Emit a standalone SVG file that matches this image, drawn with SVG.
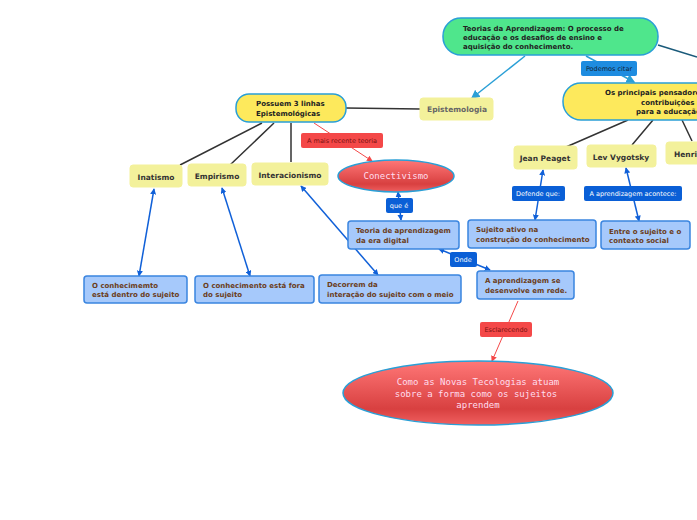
<svg xmlns="http://www.w3.org/2000/svg" width="697" height="520" viewBox="0 0 697 520">
<style>
text{font-family:"DejaVu Sans","Liberation Sans",sans-serif;font-size:7px;font-weight:bold;fill:#222}
.y{fill:#f3f19b;stroke:#f3f19b}
.yt{fill:#333;font-size:7.5px}
.b{fill:#a6c9fb;stroke:#3a85e0;stroke-width:1.5}
.bt{fill:#6b3d1a}
.lab{fill:#0a5fd6}
.labt{fill:#fff;font-weight:normal;font-size:6.5px}
.red{fill:#f44848}
.redt{fill:#7a1010;font-weight:normal;font-size:6.5px}
.mono{font-family:"DejaVu Sans Mono","Liberation Mono",monospace;font-weight:normal;fill:#fde;font-size:9px}
.k{stroke:#333;stroke-width:1.5;fill:none}
.bl{stroke:#1060d8;stroke-width:1.5;fill:none;marker-end:url(#ab);marker-start:url(#as)}
.rl{stroke:#f44848;stroke-width:1;fill:none}
</style>
<defs>
<marker id="ab" markerWidth="4" markerHeight="4" refX="3.5" refY="2" orient="auto"><path d="M0,0L4,2L0,4z" fill="#1060d8"/></marker>
<marker id="as" markerWidth="4" markerHeight="4" refX="0.5" refY="2" orient="auto"><path d="M4,0L0,2L4,4z" fill="#1060d8"/></marker>
<marker id="ac" markerWidth="6" markerHeight="6" refX="5" refY="3" orient="auto"><path d="M0,0L6,3L0,6z" fill="#2a9fd6"/></marker>
<marker id="ar" markerWidth="6" markerHeight="6" refX="5" refY="3" orient="auto"><path d="M0,0L6,3L0,6z" fill="#f44848"/></marker>
<linearGradient id="rg" x1="0" y1="0" x2="0" y2="1"><stop offset="0" stop-color="#f77"/><stop offset="0.75" stop-color="#d84040"/><stop offset="1" stop-color="#f06060"/></linearGradient>
</defs>
<rect width="697" height="520" fill="#fff"/>
<g id="connectors">
<path d="M658,45L697,57" stroke="#1a5a7a" stroke-width="1.5"/>
<path d="M525,56L472,98" stroke="#2a9fd6" stroke-width="1.5" marker-end="url(#ac)"/>
<path d="M586,56L634,82" stroke="#2a9fd6" stroke-width="1.5" marker-end="url(#ac)"/>
<path class="k" d="M346,108L420,109"/>
<path class="k" d="M262,123L180,165M274,123L230,165M291,123L291,162"/>
<path class="rl" d="M314,123L372,161" marker-end="url(#ar)"/>
<path class="bl" d="M398,192L401,220"/>
<path class="bl" d="M439,249L490,270"/>
<path class="rl" d="M518,301L492,361" marker-end="url(#ar)"/>
<path class="bl" d="M543,170L535,220"/>
<path class="bl" d="M626,168L639,221"/>
<path class="k" d="M628,120L566,147M653,120L632,145M682,120L692,141"/>
<path class="bl" d="M154,189L139,276"/>
<path class="bl" d="M222,188L250,276"/>
<path class="bl" d="M301,186L378,275"/>
</g>
<g id="lab1"><rect x="581" y="61" width="56" height="15" rx="2" fill="#1e8ce0"/><text x="609" y="71" text-anchor="middle" style="font-weight:normal;font-size:6.5px;fill:#123">Podemos citar</text></g>
<g id="lab2"><rect x="301" y="133" width="82" height="15" rx="2" class="red"/><text x="342" y="143" text-anchor="middle" class="redt">A mais recente teoria</text></g>
<g id="lab3"><rect x="386" y="198" width="27" height="15" rx="2" class="lab"/><text x="399" y="208" text-anchor="middle" class="labt">que é</text></g>
<g id="lab4"><rect x="450" y="252" width="27" height="15" rx="2" class="lab"/><text x="463" y="262" text-anchor="middle" class="labt">Onde</text></g>
<g id="lab5"><rect x="480" y="322" width="52" height="15" rx="2" class="red"/><text x="506" y="332" text-anchor="middle" class="redt">Esclarecendo</text></g>
<g id="lab6"><rect x="512" y="186" width="53" height="15" rx="2" class="lab"/><text x="538" y="196" text-anchor="middle" class="labt">Defende que:</text></g>
<g id="lab7"><rect x="584" y="186" width="98" height="15" rx="2" class="lab"/><text x="633" y="196" text-anchor="middle" class="labt">A aprendizagem acontece:</text></g>
<g id="top"><rect x="443" y="18" width="215" height="37" rx="18" fill="#4fe68c" stroke="#2a9fd6" stroke-width="1.5"/><text x="463" y="31">Teorias da Aprendizagem: O processo de</text><text x="463" y="40">educação e os desafios de ensino e</text><text x="463" y="49">aquisição do conhecimento.</text></g>
<g id="pensadores"><rect x="563" y="83" width="150" height="37" rx="18" fill="#fde95c" stroke="#2a9fd6" stroke-width="1.5"/><text x="605" y="95">Os principais pensadores</text><text x="641" y="105">contribuições</text><text x="636" y="114">para a educação</text></g>
<g id="epistemologia"><rect x="420" y="98" width="73" height="22" rx="3" class="y"/><text x="457" y="112" text-anchor="middle" class="yt" style="fill:#666">Epistemologia</text></g>
<g id="possuem"><rect x="236" y="94" width="110" height="28" rx="13" fill="#fde95c" stroke="#2a9fd6" stroke-width="1.5"/><text x="256" y="106">Possuem 3 linhas</text><text x="256" y="116">Epistemológicas</text></g>
<g id="inatismo"><rect x="130" y="165" width="52" height="22" rx="3" class="y"/><text x="156" y="180" text-anchor="middle" class="yt">Inatismo</text></g>
<g id="empirismo"><rect x="188" y="164" width="58" height="22" rx="3" class="y"/><text x="217" y="179" text-anchor="middle" class="yt">Empirismo</text></g>
<g id="interacionismo"><rect x="252" y="163" width="76" height="22" rx="3" class="y"/><text x="290" y="178" text-anchor="middle" class="yt">Interacionismo</text></g>
<g id="jean"><rect x="514" y="146" width="63" height="23" rx="3" class="y"/><text x="545" y="161" text-anchor="middle" class="yt">Jean Peaget</text></g>
<g id="lev"><rect x="587" y="145" width="69" height="22" rx="3" class="y"/><text x="621" y="160" text-anchor="middle" class="yt">Lev Vygotsky</text></g>
<g id="henri"><rect x="666" y="142" width="40" height="22" rx="3" class="y"/><text x="674" y="157" class="yt">Henri</text></g>
<g id="conectivismo"><ellipse cx="396" cy="176" rx="58" ry="16" fill="url(#rg)" stroke="#2a9fd6" stroke-width="1.5"/><text x="396" y="179" text-anchor="middle" class="mono">Conectivismo</text></g>
<g id="teoria"><rect x="348" y="221" width="111" height="28" rx="3" class="b"/><text x="356" y="233" class="bt">Teoria de aprendizagem</text><text x="356" y="243" class="bt">da era digital</text></g>
<g id="rede"><rect x="477" y="271" width="97" height="28" rx="3" class="b"/><text x="485" y="283" class="bt">A aprendizagem se</text><text x="485" y="293" class="bt">desenvolve em rede.</text></g>
<g id="sujeito"><rect x="468" y="220" width="128" height="28" rx="3" class="b"/><text x="476" y="232" class="bt">Sujeito ativo na</text><text x="476" y="242" class="bt">construção do conhecimento</text></g>
<g id="entre"><rect x="601" y="221" width="89" height="28" rx="3" class="b"/><text x="609" y="234" class="bt">Entre o sujeito e o</text><text x="609" y="243" class="bt">contexto social</text></g>
<g id="conh1"><rect x="84" y="276" width="103" height="27" rx="3" class="b"/><text x="92" y="288" class="bt">O conhecimemto</text><text x="92" y="297" class="bt">está dentro do sujeito</text></g>
<g id="conh2"><rect x="195" y="276" width="119" height="27" rx="3" class="b"/><text x="203" y="288" class="bt">O conhecimento está fora</text><text x="203" y="297" class="bt">do sujeito</text></g>
<g id="decorrem"><rect x="319" y="275" width="142" height="28" rx="3" class="b"/><text x="327" y="287" class="bt">Decorrem da</text><text x="327" y="297" class="bt">interação do sujeito com o meio</text></g>
<g id="novas"><ellipse cx="478" cy="393" rx="135" ry="32" fill="url(#rg)" stroke="#2a9fd6" stroke-width="1.5"/><text x="478" y="385" text-anchor="middle" class="mono">Como as Novas Tecologias atuam</text><text x="476" y="397" text-anchor="middle" class="mono">sobre a forma como os sujeitos</text><text x="478" y="408" text-anchor="middle" class="mono">aprendem</text></g>
</svg>
